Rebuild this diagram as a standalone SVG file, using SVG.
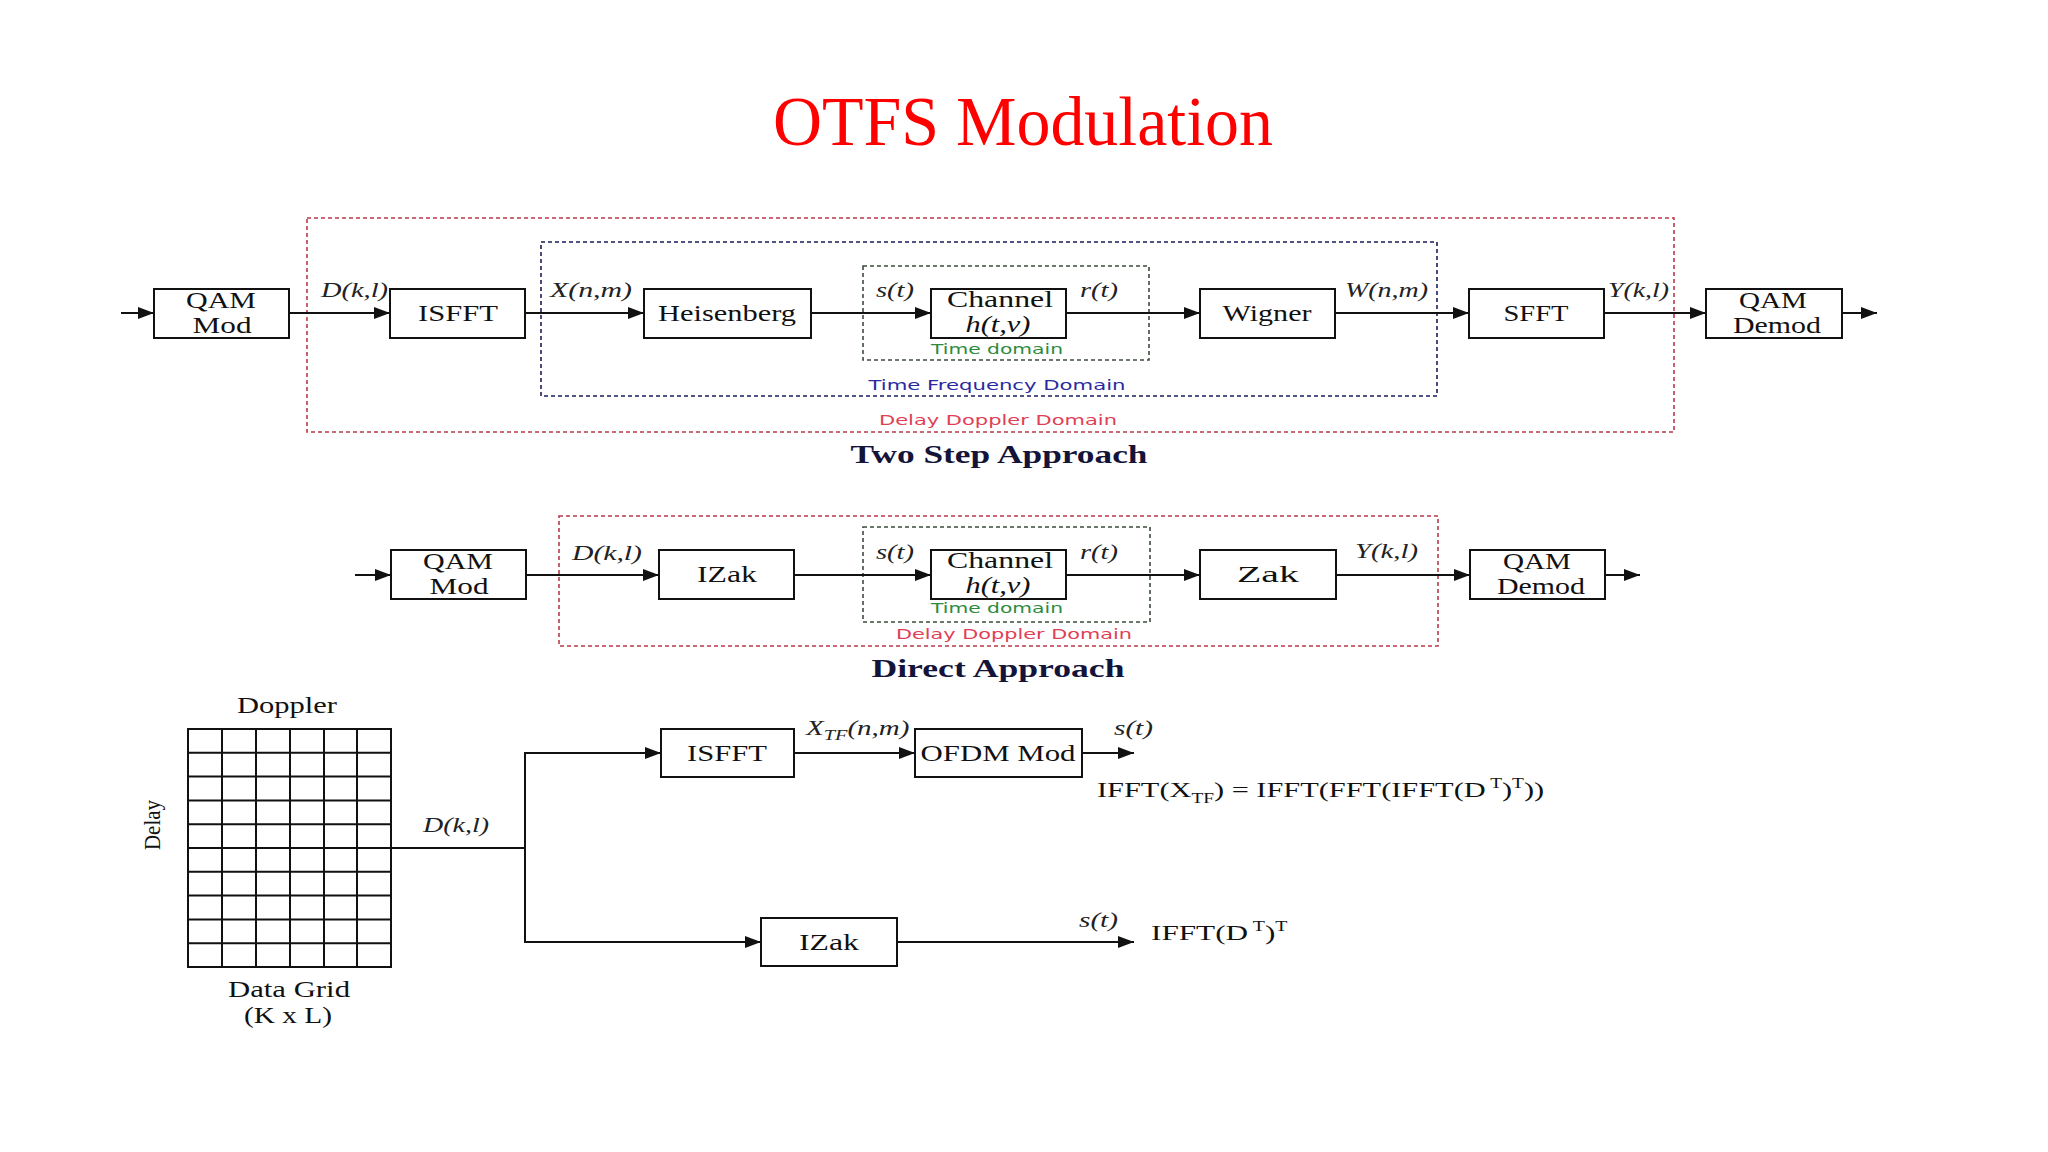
<svg xmlns="http://www.w3.org/2000/svg" width="2048" height="1152" viewBox="0 0 2048 1152">
<style>
.box{fill:#fff;stroke:#111;stroke-width:2}
.ln{fill:none;stroke:#111;stroke-width:2}
.arr{fill:none;stroke:#111;stroke-width:2;marker-end:url(#ah)}
.t{font-family:"Liberation Serif","Times New Roman",serif;font-size:23px;fill:#111;text-anchor:middle}
.it{font-family:"Liberation Serif","Times New Roman",serif;font-size:20px;font-style:italic;fill:#222}
.dom{font-family:"DejaVu Sans","Liberation Sans",sans-serif;font-size:14px;text-anchor:middle}
.hd{font-family:"Liberation Serif","Times New Roman",serif;font-size:25px;font-weight:bold;fill:#14143a;text-anchor:middle}
.dr{fill:none;stroke:#b83a4a;stroke-width:1.6;stroke-dasharray:4 3}
.db{fill:none;stroke:#1c1c5c;stroke-width:1.6;stroke-dasharray:4 3}
.dg{fill:none;stroke:#3c4c3c;stroke-width:1.6;stroke-dasharray:4 3}
</style>
<defs>
<marker id="ah" markerUnits="userSpaceOnUse" markerWidth="16" markerHeight="12" refX="16" refY="6" orient="auto">
<path d="M0,0 L16,6 L0,12 z" fill="#111"/>
</marker>
</defs>
<rect width="2048" height="1152" fill="#fff"/>
<text x="1023" y="145" font-family="Liberation Serif,Times New Roman,serif" font-size="70" fill="#f00" text-anchor="middle" textLength="500" lengthAdjust="spacingAndGlyphs">OTFS Modulation</text>

<!-- domain boxes -->
<g id="domains">
<rect class="dr" x="307" y="218" width="1367" height="214"/>
<rect class="db" x="541" y="242" width="896" height="154"/>
<rect class="dg" x="863" y="266" width="286" height="94"/>
<text class="dom" x="997" y="354" fill="#2e8b3e" textLength="132" lengthAdjust="spacingAndGlyphs">Time domain</text>
<text class="dom" x="997" y="390" fill="#2a2aa0" textLength="257" lengthAdjust="spacingAndGlyphs">Time Frequency Domain</text>
<text class="dom" x="998" y="425" fill="#e04055" textLength="238" lengthAdjust="spacingAndGlyphs">Delay Doppler Domain</text>
<text class="hd" x="999" y="463" textLength="297" lengthAdjust="spacingAndGlyphs">Two Step Approach</text>

<rect class="dr" x="559" y="516" width="879" height="130"/>
<rect class="dg" x="863" y="527" width="287" height="95"/>
<text class="dom" x="997" y="613" fill="#2e8b3e" textLength="132" lengthAdjust="spacingAndGlyphs">Time domain</text>
<text class="dom" x="1014" y="639" fill="#e04055" textLength="236" lengthAdjust="spacingAndGlyphs">Delay Doppler Domain</text>
<text class="hd" x="998" y="677" textLength="253" lengthAdjust="spacingAndGlyphs">Direct Approach</text>
</g>

<!-- connectors -->
<g id="connectors">
<line class="arr" x1="121" y1="313" x2="154" y2="313"/>
<line class="arr" x1="289" y1="313" x2="390" y2="313"/>
<line class="arr" x1="525" y1="313" x2="644" y2="313"/>
<line class="arr" x1="811" y1="313" x2="931" y2="313"/>
<line class="arr" x1="1066" y1="313" x2="1200" y2="313"/>
<line class="arr" x1="1335" y1="313" x2="1469" y2="313"/>
<line class="arr" x1="1604" y1="313" x2="1706" y2="313"/>
<line class="arr" x1="1842" y1="313" x2="1877" y2="313"/>
<text class="it" x="321" y="297" textLength="67" lengthAdjust="spacingAndGlyphs">D(k,l)</text>
<text class="it" x="550" y="297" textLength="82" lengthAdjust="spacingAndGlyphs">X(n,m)</text>
<text class="it" x="876" y="297" textLength="38" lengthAdjust="spacingAndGlyphs">s(t)</text>
<text class="it" x="1080" y="297" textLength="38" lengthAdjust="spacingAndGlyphs">r(t)</text>
<text class="it" x="1345" y="297" textLength="83" lengthAdjust="spacingAndGlyphs">W(n,m)</text>
<text class="it" x="1608" y="297" textLength="61" lengthAdjust="spacingAndGlyphs">Y(k,l)</text>

<line class="arr" x1="355" y1="575" x2="391" y2="575"/>
<line class="arr" x1="526" y1="575" x2="659" y2="575"/>
<line class="arr" x1="794" y1="575" x2="931" y2="575"/>
<line class="arr" x1="1066" y1="575" x2="1200" y2="575"/>
<line class="arr" x1="1336" y1="575" x2="1470" y2="575"/>
<line class="arr" x1="1605" y1="575" x2="1640" y2="575"/>
<text class="it" x="572" y="560" textLength="70" lengthAdjust="spacingAndGlyphs">D(k,l)</text>
<text class="it" x="876" y="559" textLength="38" lengthAdjust="spacingAndGlyphs">s(t)</text>
<text class="it" x="1080" y="559" textLength="38" lengthAdjust="spacingAndGlyphs">r(t)</text>
<text class="it" x="1355" y="558" textLength="63" lengthAdjust="spacingAndGlyphs">Y(k,l)</text>

<polyline class="ln" points="391,848 525,848"/>
<polyline class="arr" points="525,848 525,753 661,753"/>
<polyline class="arr" points="525,848 525,942 761,942"/>
<line class="arr" x1="794" y1="753" x2="915" y2="753"/>
<line class="arr" x1="1082" y1="753" x2="1134" y2="753"/>
<line class="arr" x1="897" y1="942" x2="1134" y2="942"/>
<text class="it" x="423" y="832" textLength="66" lengthAdjust="spacingAndGlyphs">D(k,l)</text>
<text class="it" transform="translate(806,735) scale(1.45,1)" x="0" y="0">X<tspan font-size="14" dy="5">TF</tspan><tspan dy="-5">(n,m)</tspan></text>
<text class="it" x="1114" y="735" textLength="39" lengthAdjust="spacingAndGlyphs">s(t)</text>
<text class="it" x="1079" y="927" textLength="39" lengthAdjust="spacingAndGlyphs">s(t)</text>
</g>

<!-- row 1 nodes -->
<g id="qam-mod-1"><rect class="box" x="154" y="289" width="135" height="49"/>
<text class="t" x="221" y="308" textLength="70" lengthAdjust="spacingAndGlyphs">QAM</text>
<text class="t" x="222" y="333" textLength="59" lengthAdjust="spacingAndGlyphs">Mod</text></g>
<g id="isfft-1"><rect class="box" x="390" y="289" width="135" height="49"/>
<text class="t" x="458" y="321" textLength="80" lengthAdjust="spacingAndGlyphs">ISFFT</text></g>
<g id="heisenberg"><rect class="box" x="644" y="289" width="167" height="49"/>
<text class="t" x="727" y="321" textLength="138" lengthAdjust="spacingAndGlyphs">Heisenberg</text></g>
<g id="channel-1"><rect class="box" x="931" y="289" width="135" height="49"/>
<text class="t" x="1000" y="307" textLength="106" lengthAdjust="spacingAndGlyphs">Channel</text>
<text class="t" x="998" y="332" font-style="italic" textLength="65" lengthAdjust="spacingAndGlyphs">h(t,v)</text></g>
<g id="wigner"><rect class="box" x="1200" y="289" width="135" height="49"/>
<text class="t" x="1267" y="321" textLength="89" lengthAdjust="spacingAndGlyphs">Wigner</text></g>
<g id="sfft"><rect class="box" x="1469" y="289" width="135" height="49"/>
<text class="t" x="1536" y="321" textLength="65" lengthAdjust="spacingAndGlyphs">SFFT</text></g>
<g id="qam-demod-1"><rect class="box" x="1706" y="289" width="136" height="49"/>
<text class="t" x="1773" y="308" textLength="68" lengthAdjust="spacingAndGlyphs">QAM</text>
<text class="t" x="1777" y="333" textLength="88" lengthAdjust="spacingAndGlyphs">Demod</text></g>

<!-- row 2 nodes -->
<g id="qam-mod-2"><rect class="box" x="391" y="550" width="135" height="49"/>
<text class="t" x="458" y="569" textLength="70" lengthAdjust="spacingAndGlyphs">QAM</text>
<text class="t" x="459" y="594" textLength="59" lengthAdjust="spacingAndGlyphs">Mod</text></g>
<g id="izak-1"><rect class="box" x="659" y="550" width="135" height="49"/>
<text class="t" x="727" y="582" textLength="60" lengthAdjust="spacingAndGlyphs">IZak</text></g>
<g id="channel-2"><rect class="box" x="931" y="550" width="135" height="49"/>
<text class="t" x="1000" y="568" textLength="106" lengthAdjust="spacingAndGlyphs">Channel</text>
<text class="t" x="998" y="593" font-style="italic" textLength="65" lengthAdjust="spacingAndGlyphs">h(t,v)</text></g>
<g id="zak"><rect class="box" x="1200" y="550" width="136" height="49"/>
<text class="t" x="1268" y="582" textLength="62" lengthAdjust="spacingAndGlyphs">Zak</text></g>
<g id="qam-demod-2"><rect class="box" x="1470" y="550" width="135" height="49"/>
<text class="t" x="1537" y="569" textLength="68" lengthAdjust="spacingAndGlyphs">QAM</text>
<text class="t" x="1541" y="594" textLength="88" lengthAdjust="spacingAndGlyphs">Demod</text></g>

<!-- row 3 -->
<g id="data-grid">
<rect class="ln" x="188" y="729" width="203" height="238"/>
<path class="ln" d="M222,729V967M256,729V967M290,729V967M324,729V967M357,729V967M188,752.8H391M188,776.6H391M188,800.4H391M188,824.2H391M188,848H391M188,871.8H391M188,895.6H391M188,919.4H391M188,943.2H391"/>
<text class="t" x="287" y="713" textLength="100" lengthAdjust="spacingAndGlyphs">Doppler</text>
<text class="t" transform="translate(160,825) rotate(-90)" x="0" y="0" textLength="50" lengthAdjust="spacingAndGlyphs">Delay</text>
<text class="t" x="289" y="997" textLength="122" lengthAdjust="spacingAndGlyphs">Data Grid</text>
<text class="t" x="288" y="1023" textLength="88" lengthAdjust="spacingAndGlyphs">(K x L)</text>
</g>
<g id="isfft-2"><rect class="box" x="661" y="729" width="133" height="48"/>
<text class="t" x="727" y="761" textLength="80" lengthAdjust="spacingAndGlyphs">ISFFT</text></g>
<g id="ofdm-mod"><rect class="box" x="915" y="729" width="167" height="48"/>
<text class="t" x="998" y="761" textLength="155" lengthAdjust="spacingAndGlyphs">OFDM Mod</text></g>
<g id="izak-2"><rect class="box" x="761" y="918" width="136" height="48"/>
<text class="t" x="829" y="950" textLength="60" lengthAdjust="spacingAndGlyphs">IZak</text></g>
<g id="formulas">
<text class="t" style="text-anchor:start;font-size:22px" transform="translate(1097,797) scale(1.38,1)" x="0" y="0">IFFT(X<tspan font-size="14" dy="6">TF</tspan><tspan dy="-6">) = IFFT(FFT(IFFT(D</tspan><tspan font-size="14" dy="-9"> T</tspan><tspan dy="9">)</tspan><tspan font-size="14" dy="-9">T</tspan><tspan dy="9">))</tspan></text>
<text class="t" style="text-anchor:start;font-size:22px" transform="translate(1151,940) scale(1.42,1)" x="0" y="0">IFFT(D<tspan font-size="14" dy="-9"> T</tspan><tspan dy="9">)</tspan><tspan font-size="14" dy="-9">T</tspan></text>
</g>
</svg>
